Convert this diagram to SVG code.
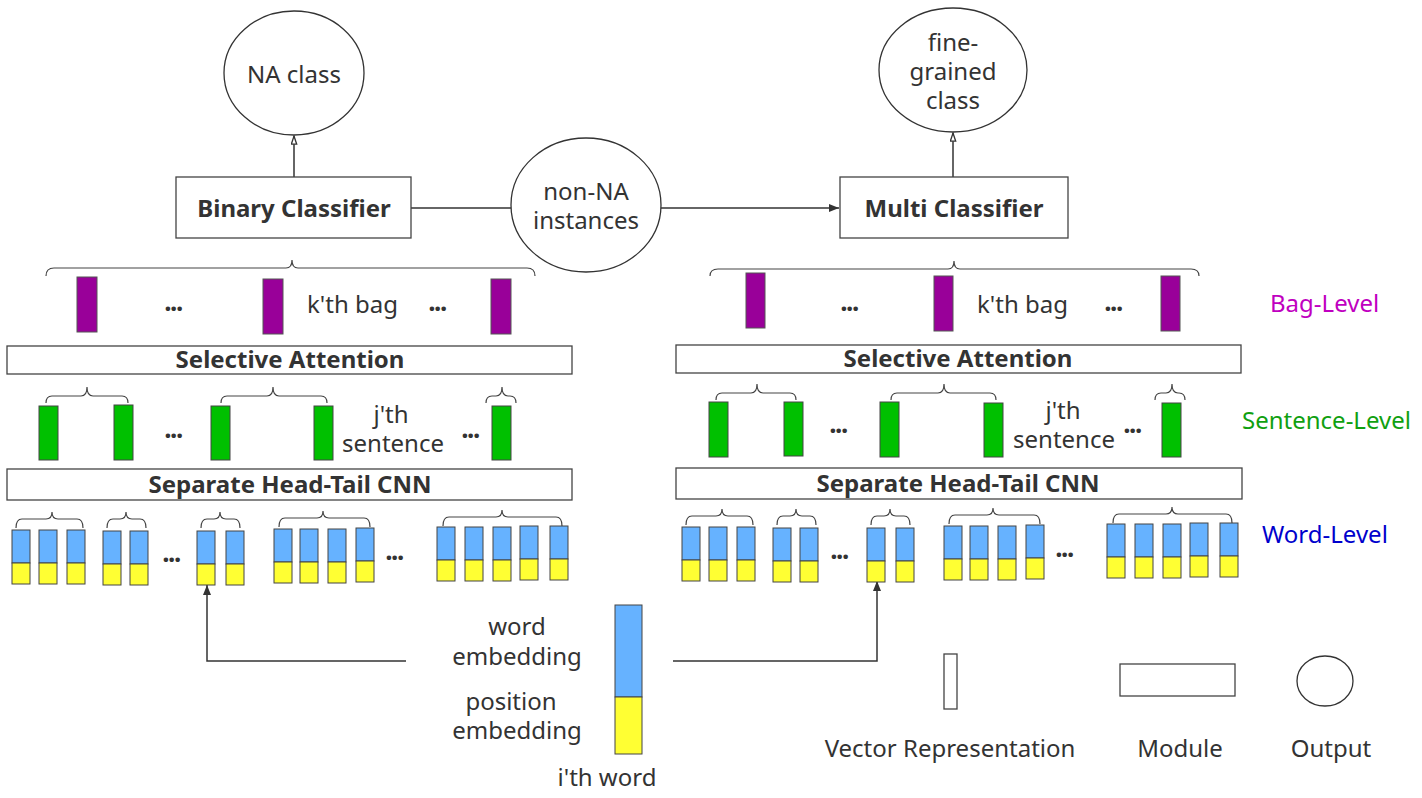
<svg xmlns="http://www.w3.org/2000/svg" xmlns:xlink="http://www.w3.org/1999/xlink" width="1422" height="798" viewBox="0 0 1422 798">
<style>
text{font-family:"Noto Sans","Open Sans","Liberation Sans",sans-serif;fill:#333;}
.t{font-size:24px;}
.b{font-size:24px;font-weight:bold;}
.d{font-size:26px;font-weight:bold;text-anchor:middle;letter-spacing:-1.5px;}
.c{text-anchor:middle;}
.box{fill:#fff;stroke:#444;stroke-width:1.3;}
.ell{fill:#fff;stroke:#333;stroke-width:1.3;}
.bag{fill:#990099;stroke:#555;stroke-width:1;}
.sen{fill:#00C000;stroke:#444;stroke-width:1;}
.blu{fill:#66B2FF;stroke:#444;stroke-width:1;}
.yel{fill:#FFFF33;stroke:#444;stroke-width:1;}
.br{fill:none;stroke:#444;stroke-width:1.2;}
.ln{fill:none;stroke:#333;stroke-width:1.5;}
</style>
<defs>
<marker id="af" markerUnits="userSpaceOnUse" markerWidth="12" markerHeight="10" refX="10" refY="4" orient="auto"><path d="M0,0 L10,4 L0,8 z" fill="#333"/></marker>
<marker id="ah" markerUnits="userSpaceOnUse" markerWidth="12" markerHeight="10" refX="9" refY="3.5" orient="auto"><path d="M0.8,0.8 L9,3.5 L0.8,6.2 z" fill="#fff" stroke="#333" stroke-width="1.3"/></marker>
<g id="wv"><rect class="blu" x="0" y="0" width="18" height="33"/><rect class="yel" x="0" y="33" width="18" height="21"/></g>
</defs>

<g id="connectors">
<line class="ln" x1="294" y1="177" x2="294" y2="136" marker-end="url(#ah)"/>
<line class="ln" x1="953" y1="177" x2="953" y2="133" marker-end="url(#ah)"/>
<line class="ln" x1="411" y1="208" x2="511" y2="208"/>
<line class="ln" x1="661" y1="208" x2="839" y2="208" marker-end="url(#af)"/>
<polyline class="ln" points="406,661 207,661 207,585" marker-end="url(#af)"/>
<polyline class="ln" points="673,661 877,661 877,581" marker-end="url(#af)"/>
</g>

<g id="na-class"><ellipse class="ell" cx="294" cy="73" rx="70" ry="62"/><text class="t c" x="294" y="83">NA class</text></g>
<g id="fine-grained-class"><ellipse class="ell" cx="953" cy="70" rx="74" ry="62"/><text class="t c" x="953" y="51">fine-</text><text class="t c" x="953" y="80">grained</text><text class="t c" x="953" y="109">class</text></g>
<g id="binary-classifier"><rect class="box" x="176" y="177" width="235" height="61"/><text class="b c" x="294" y="217">Binary Classifier</text></g>
<g id="non-na"><ellipse class="ell" cx="586" cy="205" rx="75" ry="67"/><text class="t c" x="586" y="200">non-NA</text><text class="t c" x="586" y="229">instances</text></g>
<g id="multi-classifier"><rect class="box" x="840" y="177" width="228" height="61"/><text class="b c" x="954" y="217">Multi Classifier</text></g>

<!-- Bag level left -->
<g id="bag-left">
<path class="br" d="M46,276 Q46,268 54,268 L286,268 Q292,268 292,260 Q292,268 298,268 L527,268 Q535,268 535,276"/>
<rect class="bag" x="77" y="277" width="20" height="55"/>
<rect class="bag" x="263" y="279" width="20" height="55"/>
<rect class="bag" x="491" y="279" width="20" height="55"/>
<text class="d" x="173" y="311">...</text>
<text class="t" x="307" y="313">k'th bag</text>
<text class="d" x="437" y="311">...</text>
</g>
<!-- Bag level right -->
<g id="bag-right">
<path class="br" d="M710,276 Q710,269 718,269 L948,269 Q954,269 954,261 Q954,269 960,269 L1191,269 Q1199,269 1199,276"/>
<rect class="bag" x="746" y="273" width="19" height="55"/>
<rect class="bag" x="934" y="276" width="19" height="55"/>
<rect class="bag" x="1161" y="276" width="19" height="55"/>
<text class="d" x="849" y="311">...</text>
<text class="t" x="977" y="313">k'th bag</text>
<text class="d" x="1113" y="311">...</text>
</g>

<g id="selective-attention-left"><rect class="box" x="7" y="346" width="565" height="28"/><text class="b c" x="290" y="368">Selective Attention</text></g>
<g id="selective-attention-right"><rect class="box" x="676" y="345" width="565" height="28"/><text class="b c" x="958" y="367">Selective Attention</text></g>

<!-- Sentence level left -->
<g id="sentence-left">
<path class="br" d="M46,403 Q46,396 52,396 L81,396 Q87,396 87,387 Q87,396 93,396 L122,396 Q128,396 128,403"/>
<path class="br" d="M221,403 Q221,396 227,396 L267,396 Q273,396 273,387 Q273,396 279,396 L321,396 Q327,396 327,403"/>
<path class="br" d="M486,403 Q486,396 492,396 L496,396 Q502,396 502,387 Q502,396 508,396 L510,396 Q516,396 516,403"/>
<rect class="sen" x="39" y="406" width="19" height="54"/>
<rect class="sen" x="114" y="405" width="19" height="55"/>
<rect class="sen" x="211" y="406" width="19" height="54"/>
<rect class="sen" x="314" y="406" width="19" height="54"/>
<rect class="sen" x="492" y="406" width="19" height="54"/>
<text class="d" x="173" y="438">...</text>
<text class="t c" x="391" y="423">j'th</text>
<text class="t c" x="393" y="452">sentence</text>
<text class="d" x="470" y="438">...</text>
</g>
<!-- Sentence level right -->
<g id="sentence-right">
<path class="br" d="M716,400 Q716,393 722,393 L751,393 Q757,393 757,384 Q757,393 763,393 L790,393 Q796,393 796,400"/>
<path class="br" d="M891,400 Q891,393 897,393 L938,393 Q944,393 944,384 Q944,393 950,393 L990,393 Q996,393 996,400"/>
<path class="br" d="M1155,400 Q1155,393 1161,393 L1166,393 Q1172,393 1172,384 Q1172,393 1178,393 L1179,393 Q1185,393 1185,400"/>
<rect class="sen" x="709" y="402" width="19" height="55"/>
<rect class="sen" x="784" y="402" width="19" height="54"/>
<rect class="sen" x="880" y="402" width="19" height="55"/>
<rect class="sen" x="984" y="403" width="19" height="54"/>
<rect class="sen" x="1162" y="403" width="19" height="54"/>
<text class="d" x="838" y="433">...</text>
<text class="t c" x="1063" y="419">j'th</text>
<text class="t c" x="1064" y="448">sentence</text>
<text class="d" x="1132" y="433">...</text>
</g>

<g id="cnn-left"><rect class="box" x="7" y="469" width="565" height="31"/><text class="b c" x="290" y="493">Separate Head-Tail CNN</text></g>
<g id="cnn-right"><rect class="box" x="676" y="468" width="566" height="31"/><text class="b c" x="958" y="492">Separate Head-Tail CNN</text></g>

<!-- Word level left -->
<g id="word-left">
<path class="br" d="M16,528 Q16,519 22,519 L46,519 Q52,519 52,512 Q52,519 58,519 L77,519 Q83,519 83,528"/>
<path class="br" d="M107,528 Q107,519 113,519 L120,519 Q126,519 126,512 Q126,519 132,519 L140,519 Q146,519 146,528"/>
<path class="br" d="M201,528 Q201,519 207,519 L214,519 Q220,519 220,512 Q220,519 226,519 L234,519 Q240,519 240,528"/>
<path class="br" d="M279,527 Q279,518 285,518 L317,518 Q323,518 323,511 Q323,518 329,518 L364,518 Q370,518 370,527"/>
<path class="br" d="M443,526 Q443,517 449,517 L496,517 Q502,517 502,510 Q502,517 508,517 L556,517 Q562,517 562,526"/>
<use xlink:href="#wv" x="12" y="530"/><use xlink:href="#wv" x="39" y="530"/><use xlink:href="#wv" x="67" y="530"/>
<use xlink:href="#wv" x="103" y="531"/><use xlink:href="#wv" x="130" y="531"/>
<use xlink:href="#wv" x="197" y="531"/><use xlink:href="#wv" x="226" y="531"/>
<use xlink:href="#wv" x="274" y="529"/><use xlink:href="#wv" x="300" y="529"/><use xlink:href="#wv" x="328" y="529"/><use xlink:href="#wv" x="356" y="528"/>
<use xlink:href="#wv" x="437" y="527"/><use xlink:href="#wv" x="465" y="527"/><use xlink:href="#wv" x="493" y="527"/><use xlink:href="#wv" x="520" y="526"/><use xlink:href="#wv" x="550" y="526"/>
<text class="d" x="171" y="562">...</text>
<text class="d" x="394" y="560">...</text>
</g>
<!-- Word level right -->
<g id="word-right" transform="translate(670,-3)">
<path class="br" d="M16,528 Q16,519 22,519 L46,519 Q52,519 52,512 Q52,519 58,519 L77,519 Q83,519 83,528"/>
<path class="br" d="M107,528 Q107,519 113,519 L120,519 Q126,519 126,512 Q126,519 132,519 L140,519 Q146,519 146,528"/>
<path class="br" d="M201,528 Q201,519 207,519 L214,519 Q220,519 220,512 Q220,519 226,519 L234,519 Q240,519 240,528"/>
<path class="br" d="M279,527 Q279,518 285,518 L317,518 Q323,518 323,511 Q323,518 329,518 L364,518 Q370,518 370,527"/>
<path class="br" d="M443,526 Q443,517 449,517 L496,517 Q502,517 502,510 Q502,517 508,517 L556,517 Q562,517 562,526"/>
<use xlink:href="#wv" x="12" y="530"/><use xlink:href="#wv" x="39" y="530"/><use xlink:href="#wv" x="67" y="530"/>
<use xlink:href="#wv" x="103" y="531"/><use xlink:href="#wv" x="130" y="531"/>
<use xlink:href="#wv" x="197" y="531"/><use xlink:href="#wv" x="226" y="531"/>
<use xlink:href="#wv" x="274" y="529"/><use xlink:href="#wv" x="300" y="529"/><use xlink:href="#wv" x="328" y="529"/><use xlink:href="#wv" x="356" y="528"/>
<use xlink:href="#wv" x="437" y="527"/><use xlink:href="#wv" x="465" y="527"/><use xlink:href="#wv" x="493" y="527"/><use xlink:href="#wv" x="520" y="526"/><use xlink:href="#wv" x="550" y="526"/>
<text class="d" x="169" y="562">...</text>
<text class="d" x="394" y="560">...</text>
</g>

<!-- Level labels -->
<g id="level-labels">
<text class="t" x="1270" y="312" style="fill:#C000C0">Bag-Level</text>
<text class="t" x="1242" y="429" style="fill:#10A010">Sentence-Level</text>
<text class="t" x="1262" y="543" style="fill:#0000CC">Word-Level</text>
</g>

<!-- i'th word -->
<g id="ith-word">
<rect class="blu" x="615" y="605" width="27" height="92"/>
<rect class="yel" x="615" y="697" width="27" height="57"/>
<text class="t c" x="517" y="635">word</text>
<text class="t c" x="517" y="665">embedding</text>
<text class="t c" x="511" y="710">position</text>
<text class="t c" x="517" y="739">embedding</text>
<text class="t c" x="607" y="786">i'th word</text>
</g>

<!-- Legend -->
<g id="legend-vector"><rect class="box" x="944" y="654" width="13" height="55"/><text class="t c" x="950" y="757">Vector Representation</text></g>
<g id="legend-module"><rect class="box" x="1120" y="664" width="115" height="32"/><text class="t c" x="1180" y="757">Module</text></g>
<g id="legend-output"><ellipse class="ell" cx="1325" cy="681" rx="28" ry="25"/><text class="t c" x="1331" y="757">Output</text></g>
</svg>
